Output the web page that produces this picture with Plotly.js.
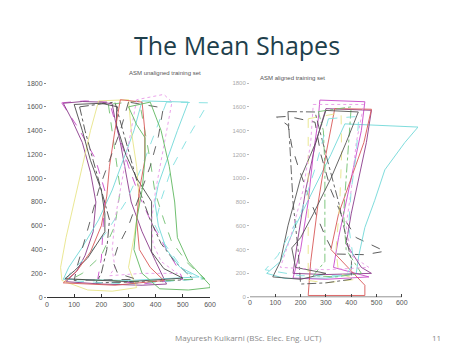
<!DOCTYPE html>
<html><head><meta charset="utf-8">
<script src="https://cdn.plot.ly/plotly-3.0.1.min.js"></script>
<style>html,body{margin:0;padding:0;background:#fff}#chart{width:474px;height:355px}</style>
</head><body><div id="chart"></div>
<script>
// ---- Data: left panel (unaligned training set) ----
const L1x=[54,115,177,214,207,200,187,350,500,480,440,390,340,300,260,230,140,54];
const L1y=[1634,1423,1169,887,606,324,155,110,150,250,400,600,850,1100,1400,1640,1650,1634];
const L2x=[60,90,130,160,180,170,140,110,70,200,350,440,400,350,310,290,270,250,240,200,130,60];
const L2y=[1630,1500,1300,1050,800,550,350,220,130,110,100,110,300,550,800,1050,1300,1500,1625,1640,1645,1630];
const L3x=[120,140,170,200,230,220,200,180,380,540,520,470,420,380,340,310,280,250,120];
const L3y=[1600,1400,1150,900,650,400,200,120,130,150,190,300,450,650,900,1150,1400,1640,1600];
const L4x=[350,320,280,240,190,130,80,60,300,560,490,440,410,397,410,440,480,520,350];
const L4y=[1650,1400,1150,900,650,420,250,150,140,170,250,400,600,800,950,1150,1400,1640,1650];
const L5x=[440,400,350,290,220,150,90,70,300,581,508,434,397,422,459,532,560,594,440];
const L5y=[1640,1400,1100,800,550,350,220,140,110,155,211,444,606,832,1085,1395,1500,1634,1640];
const L6x=[190,160,130,100,70,50,55,150,240,330,300,320,340,330,310,300,190];
const L6y=[1650,1400,1100,800,500,250,140,60,50,80,250,500,800,1100,1400,1660,1650];
const L7x=[226,240,260,270,250,200,130,90,350,581,520,459,430,397,380,360,340,226];
const L7y=[1620,1400,1100,900,600,350,200,150,130,155,280,465,650,887,1150,1400,1650,1620];
const L8x=[100,130,160,200,213,213,150,100,66,300,500,430,385,385,330,290,256,256,260,200,100];
const L8y=[1620,1400,1150,900,700,550,330,220,155,130,160,240,380,803,1000,1200,1445,1570,1600,1630,1620];
const L9x=[270,250,230,220,200,160,110,60,250,430,380,340,330,340,360,360,350,270];
const L9y=[1660,1400,1100,850,600,380,220,120,100,140,250,400,650,900,1150,1400,1640,1660];
const L10x=[330,310,290,270,250,240,250,230,350,480,420,390,385,400,420,440,460,430,330];
const L10y=[1660,1400,1150,900,650,400,250,180,200,200,300,450,650,900,1150,1400,1640,1705,1660];
const L11x=[300,270,230,190,160,130,110,100,330,260,243,260,300,340,380,410,428,300];
const L11y=[1640,1400,1150,900,650,400,250,140,150,200,296,420,600,850,1100,1350,1591,1640];
const L12x=[300,330,361,361,350,330,320,350,415,520,600,600,520,480,470,450,420,380,300];
const L12y=[1600,1450,1340,1169,900,650,400,200,70,60,80,100,300,500,800,1100,1400,1640,1600];
// ---- Data: right panel (aligned training set) ----
const R1x=[105,150,257,280,320,360,420,533,454,333,300,240,190,165,151,105];
const R1y=[1514,1520,1471,1200,900,700,500,386,357,363,500,800,1100,1271,1443,1514];
const R2x=[375,559,664,612,533,493,454,430,420,300,138,66,120,180,250,320,375];
const R2y=[1457,1440,1430,1300,1071,814,586,350,200,160,157,200,300,600,900,1200,1457];
const R3x=[276,454,440,410,380,350,330,470,300,170,200,230,250,270,276];
const R3y=[1657,1643,1400,1100,800,500,250,170,150,160,400,800,1200,1500,1657];
const R4x=[300,480,460,430,400,380,440,480,300,170,190,220,260,300];
const R4y=[1585,1571,1300,1000,700,450,250,200,190,200,500,900,1300,1585];
const R5x=[335,480,450,400,350,320,454,454,300,230,240,270,300,335];
const R5y=[1585,1580,1300,1000,700,400,100,14,14,14,300,800,1200,1585];
const R6x=[230,360,362,355,340,350,420,300,230,230,230,230,230];
const R6y=[1500,1550,1200,800,400,200,150,120,140,300,700,1100,1500];
const R7x=[270,400,390,380,370,380,440,340,250,296,296,296,290,270];
const R7y=[1560,1600,1300,1000,700,400,200,170,180,300,700,1100,1400,1560];
const R8x=[300,428,380,320,250,200,165,180,300,200,90,120,150,200,260,300];
const R8y=[1570,1557,1300,1000,700,500,414,250,200,150,170,300,600,1000,1300,1570];
const R9x=[150,257,300,350,380,401,400,300,200,190,170,160,150];
const R9y=[1560,1557,1200,800,500,300,150,120,110,400,800,1200,1560];
const R10x=[250,450,420,400,380,400,470,300,120,160,210,240,250];
const R10y=[1620,1620,1300,900,600,350,250,230,250,500,900,1300,1620];
const R11x=[310,430,420,400,390,410,380,200,60,110,200,260,310];
const R11y=[1500,1520,1200,900,600,300,180,180,230,350,700,1100,1500];

const xTicks=[0,100,200,300,400,500,600];
const yTicks=[0,200,400,600,800,1000,1200,1400,1600,1800];

const styles=[
 ['#c848c8','dash'],['#8a3a8a','solid'],['#4a4a4a','dashdot'],['#70d8d8','solid'],
 ['#80e0e0','dash'],['#e8e488','solid'],['#70c070','dash'],['#4a4a4a','solid'],
 ['#d85858','solid'],['#e898e8','dot'],['#555555','dash'],['#60b860','solid']];
const rStyles=[
 ['#4a4a4a','dash'],['#70d8d8','solid'],['#c848c8','solid'],['#8a3a8a','solid'],
 ['#d85858','solid'],['#e8e488','dash'],['#70c070','dashdot'],['#555555','solid'],
 ['#555555','dashdot'],['#e898e8','dot'],['#80e0e0','dash']];

const left=[[L1x,L1y],[L2x,L2y],[L3x,L3y],[L4x,L4y],[L5x,L5y],[L6x,L6y],[L7x,L7y],[L8x,L8y],[L9x,L9y],[L10x,L10y],[L11x,L11y],[L12x,L12y]];
const right=[[R1x,R1y],[R2x,R2y],[R3x,R3y],[R4x,R4y],[R5x,R5y],[R6x,R6y],[R7x,R7y],[R8x,R8y],[R9x,R9y],[R10x,R10y],[R11x,R11y]];

const data=[];
left.forEach((s,i)=>data.push({x:s[0],y:s[1],type:'scatter',mode:'lines',xaxis:'x',yaxis:'y',
  line:{color:styles[i][0],dash:styles[i][1],width:0.9},hoverinfo:'skip'}));
right.forEach((s,i)=>data.push({x:s[0],y:s[1],type:'scatter',mode:'lines',xaxis:'x2',yaxis:'y2',
  line:{color:rStyles[i][0],dash:rStyles[i][1],width:0.9},hoverinfo:'skip'}));

const tickFont={family:'Liberation Sans, Arial',size:7,color:'#555'};
const layout={
  width:474,height:355,margin:{l:0,r:0,t:0,b:0},
  paper_bgcolor:'#fff',plot_bgcolor:'rgba(0,0,0,0)',showlegend:false,
  xaxis:{domain:[47/474,210/474],range:[0,600],tickvals:xTicks,ticktext:xTicks.map(String),
    showgrid:false,zeroline:false,showline:true,linecolor:'#333',linewidth:1,
    ticks:'inside',ticklen:3,tickcolor:'#333',tickfont:tickFont,anchor:'y'},
  yaxis:{domain:[0.163,0.766],range:[0,1800],tickvals:yTicks,ticktext:yTicks.map(String),
    showgrid:false,zeroline:false,showline:false,ticks:'outside',ticklen:2,tickcolor:'#888',
    tickfont:tickFont,anchor:'x'},
  xaxis2:{domain:[250/474,418/474],range:[0,664],tickvals:xTicks,ticktext:xTicks.map(String),
    showgrid:false,zeroline:false,showline:false,
    ticks:'inside',ticklen:3,tickcolor:'#444',tickfont:tickFont,anchor:'y2'},
  yaxis2:{domain:[0.163,0.766],range:[0,1800],tickvals:yTicks,ticktext:yTicks.map(String),
    showgrid:false,zeroline:false,showline:false,ticks:'outside',ticklen:2,tickcolor:'#bbb',
    tickfont:{family:'Liberation Sans, Arial',size:6,color:'#aaa'},anchor:'x2'},
  shapes:[{type:'line',xref:'x2',yref:'y2',x0:0,x1:600,y0:0,y1:0,line:{color:'#333',width:1}}],
  annotations:[
    {text:'The Mean Shapes',xref:'paper',yref:'paper',x:0.5,y:(355-45)/355,yanchor:'middle',showarrow:false,
     font:{family:'Open Sans, Noto Sans',size:25,color:'#1e3f4c'}},
    {text:'ASM unaligned training set',xref:'paper',yref:'paper',x:127/474,y:(355-73)/355,yanchor:'middle',showarrow:false,
     font:{family:'Liberation Sans, Arial',size:6,color:'#555'}},
    {text:'ASM aligned training set',xref:'paper',yref:'paper',x:327/474,y:(355-78)/355,yanchor:'middle',showarrow:false,
     font:{family:'Liberation Sans, Arial',size:6,color:'#555'}},
    {text:'Mayuresh Kulkarni (BSc. Elec. Eng. UCT)',xref:'paper',yref:'paper',x:173/474,y:(355-337)/355,
     xanchor:'left',yanchor:'middle',showarrow:false,font:{family:'Open Sans, Noto Sans',size:8,color:'#888'}},
    {text:'11',xref:'paper',yref:'paper',x:443/474,y:(355-337)/355,yanchor:'middle',showarrow:false,
     font:{family:'Open Sans, Noto Sans',size:8,color:'#888'}}
  ]
};
Plotly.newPlot('chart',data,layout,{displayModeBar:false,staticPlot:true});
</script></body></html>
